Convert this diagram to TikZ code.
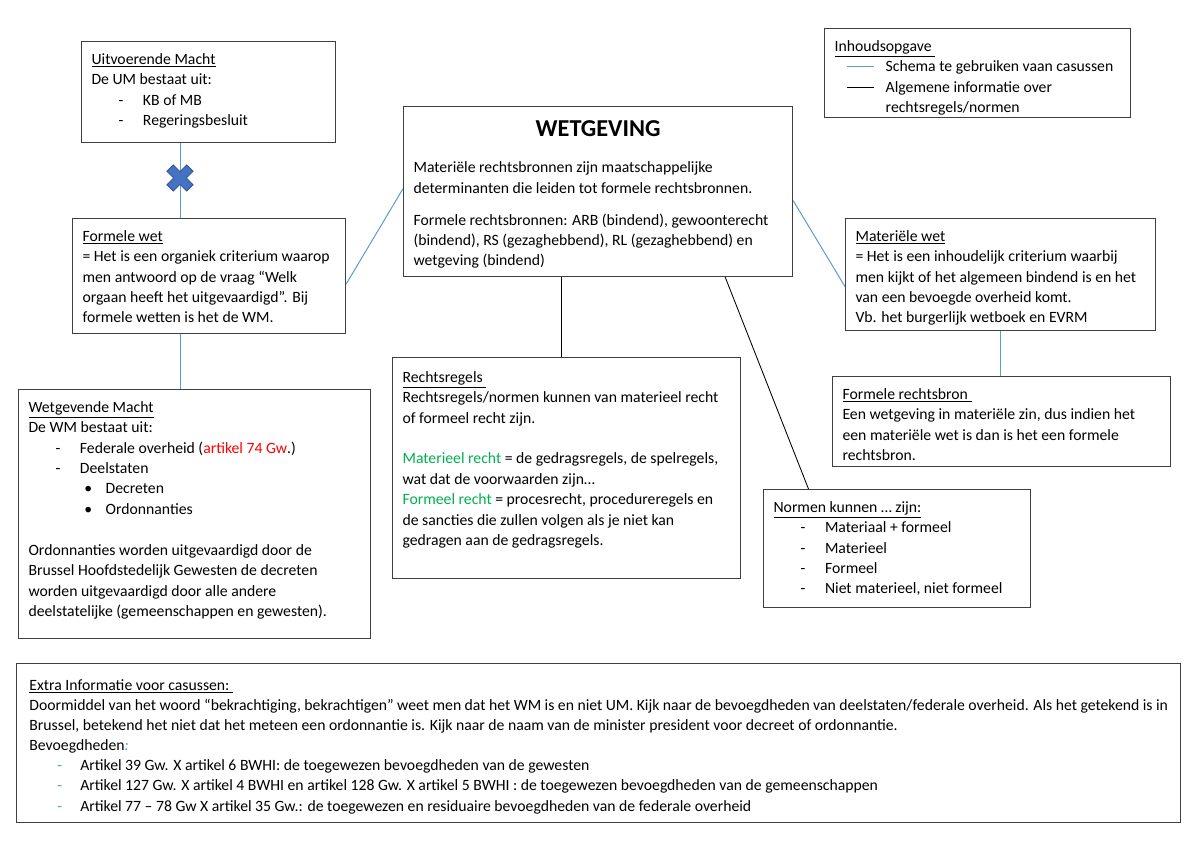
\documentclass[tikz,border=0pt]{standalone}
\usepackage{fontspec}
\setmainfont{Carlito}
\usepackage{xcolor}
\usepackage{tikz}

\definecolor{lijnblauw}{HTML}{5B9BD5}
\definecolor{kruisblauw}{HTML}{4472C4}
\definecolor{kruisrand}{HTML}{2F528F}
\definecolor{randgrijs}{HTML}{404040}
\definecolor{artrood}{HTML}{FF0000}
\definecolor{rechtgroen}{HTML}{00B050}

\newcommand{\vaktekst}[3]{\parbox[c][#2][t]{#1}{\raggedright\rule{0pt}{10.8pt}#3}}
\newcommand{\streep}[1]{\hspace*{19pt}\makebox[17pt][l]{-}#1}
\newcommand{\bolletje}[1]{\hspace*{39pt}\makebox[15pt][l]{\textbullet}#1}
\newcommand{\blauwstreep}[1]{\hspace*{19.6pt}\makebox[16pt][l]{\textcolor{lijnblauw}{-}}#1}

\begin{document}
\begin{tikzpicture}[x=0.7pt, y=-0.7pt,
    kader/.style={draw=randgrijs, line width=0.8pt, anchor=north west, inner xsep=7pt, inner ysep=5pt, font=\fontsize{11}{14.3}\selectfont},
    blauwlijn/.style={draw=lijnblauw, line width=0.7pt},
    zwartlijn/.style={draw=black, line width=0.6pt}]
        \useasboundingbox (0,0) rectangle (1200,848);

        % Uitvoerende Macht
        \node[kader] (uitv) at (81,41) {\vaktekst{163.8pt}{60.7pt}{\underline{Uitvoerende Macht}\\
        De UM bestaat uit:\\
        \streep{KB of MB}\\
        \streep{Regeringsbesluit}}};

        % WETGEVING
        \node[kader] (wetg) at (403,106) {\vaktekst{258.3pt}{109pt}{%
        {\centering\fontsize{17}{17}\selectfont\bfseries\rule{0pt}{16pt}WETGEVING\par}
        \vspace{11pt}
        Materiële rechtsbronnen zijn maatschappelijke\\
        determinanten die leiden tot formele rechtsbronnen.\par
        \vspace{8pt}
        Formele rechtsbronnen: ARB (bindend), gewoonterecht\\
        (bindend), RS (gezaghebbend), RL (gezaghebbend) en\\
        wetgeving (bindend)}};

        % Inhoudsopgave
        \node[kader] (inhoud) at (824,28) {\vaktekst{200.2pt}{52.3pt}{\underline{Inhoudsopgave\ }\\
        \hspace*{8.4pt}\textcolor{lijnblauw}{\rule[3pt]{19pt}{0.6pt}}\hspace{8.4pt}Schema te gebruiken vaan casussen\\
        \hspace*{8.4pt}\rule[3pt]{19pt}{0.6pt}\hspace{8.4pt}Algemene informatie over\\
        \hspace*{35.8pt}rechtsregels/normen}};

        % Formele wet
        \node[kader] (formwet) at (72,218) {\vaktekst{177.1pt}{70.5pt}{\underline{Formele wet}\\
        = Het is een organiek criterium waarop\\
        men antwoord op de vraag “Welk\\
        orgaan heeft het uitgevaardigd”. Bij\\
        formele wetten is het de WM.}};

        % Materiele wet
        \node[kader] (matwet) at (845,218) {\vaktekst{203pt}{68.4pt}{\underline{Materiële wet}\\
        = Het is een inhoudelijk criterium waarbij\\
        men kijkt of het algemeen bindend is en het\\
        van een bevoegde overheid komt.\\
        Vb. het burgerlijk wetboek en EVRM}};

        % Wetgevende Macht
        \node[kader] (wgm) at (18,389) {\vaktekst{232.4pt}{164.3pt}{\underline{Wetgevende Macht}\\
        De WM bestaat uit:\\
        \streep{Federale overheid (\textcolor{artrood}{artikel 74 Gw}.)}\\
        \streep{Deelstaten}\\
        \bolletje{Decreten}\\
        \bolletje{Ordonnanties}\\[14.3pt]
        Ordonnanties worden uitgevaardigd door de\\
        Brussel Hoofdstedelijk Gewesten de decreten\\
        worden uitgevaardigd door alle andere\\
        deelstatelijke (gemeenschappen en gewesten).}};

        % Rechtsregels
        \node[kader] (rr) at (392,357) {\vaktekst{229.6pt}{144.7pt}{\rule{0pt}{12.2pt}\underline{Rechtsregels\ }\\
        Rechtsregels/normen kunnen van materieel recht\\
        of formeel recht zijn.\\[14.3pt]
        \textcolor{rechtgroen}{Materieel recht} = de gedragsregels, de spelregels,\\
        wat dat de voorwaarden zijn…\\
        \textcolor{rechtgroen}{Formeel recht} = procesrecht, procedureregels en\\
        de sancties die zullen volgen als je niet kan\\
        gedragen aan de gedragsregels.}};

        % Formele rechtsbron
        \node[kader] (frb) at (832,376) {\vaktekst{222.6pt}{53pt}{\underline{Formele rechtsbron\ }\\
        Een wetgeving in materiële zin, dus indien het\\
        een materiële wet is dan is het een formele\\
        rechtsbron.}};

        % Normen
        \node[kader] (normen) at (763,489) {\vaktekst{172.9pt}{72.6pt}{\underline{Normen kunnen … zijn:}\\
        \streep{Materiaal + formeel}\\
        \streep{Materieel}\\
        \streep{Formeel}\\
        \streep{Niet materieel, niet formeel}}};

        % Extra informatie
        \node[kader, inner xsep=9pt, font=\fontsize{11}{14.1}\selectfont] (extra) at (16,663) {\parbox[c][101.3pt][t]{797pt}{\rule{0pt}{13.6pt}\underline{Extra Informatie voor casussen:\ }\\
        Doormiddel van het woord “bekrachtiging, bekrachtigen” weet men dat het WM is en niet UM. Kijk naar de bevoegdheden van deelstaten/federale overheid. Als het getekend is in\linebreak
        Brussel, betekend het niet dat het meteen een ordonnantie is. Kijk naar de naam van de minister president voor decreet of ordonnantie.\\
        Bevoegdheden\textcolor{lijnblauw}{\textit{:}}\\
        \blauwstreep{Artikel 39 Gw. X artikel 6 BWHI: de toegewezen bevoegdheden van de gewesten}\\
        \blauwstreep{Artikel 127 Gw. X artikel 4 BWHI en artikel 128 Gw. X artikel 5 BWHI : de toegewezen bevoegdheden van de gemeenschappen}\\
        \blauwstreep{Artikel 77 – 78 Gw X artikel 35 Gw.: de toegewezen en residuaire bevoegdheden van de federale overheid}}};

        % Lijnen
        \coordinate (kruis) at (180,178);
        \coordinate (rrtop) at ([xshift=-3.5pt]rr.north);
        \draw[blauwlijn] (uitv.south -| kruis) -- (formwet.north -| kruis);
        \draw[blauwlijn] (formwet.south -| kruis) -- (wgm.north -| kruis);
        \draw[blauwlijn] ([yshift=-5.6pt]formwet.east) -- ([yshift=2pt]wetg.west);
        \draw[blauwlijn] ([yshift=-6.3pt]wetg.east) -- ([yshift=-8.4pt]matwet.west);
        \draw[blauwlijn] (matwet.south) -- (matwet.south |- frb.north);
        \draw[zwartlijn] (rrtop |- wetg.south) -- (rrtop);
        \draw[zwartlijn] ([xshift=89pt]wetg.south) -- ([xshift=-62pt]normen.north);

        % Kruis
        \draw[fill=kruisblauw, draw=kruisrand, line width=0.6pt, shift={(kruis)}, rotate=45]
            (-4.5,-14) -- (4.5,-14) -- (4.5,-4.5) -- (14,-4.5) -- (14,4.5) -- (4.5,4.5) -- (4.5,14)
            -- (-4.5,14) -- (-4.5,4.5) -- (-14,4.5) -- (-14,-4.5) -- (-4.5,-4.5) -- cycle;
    \end{tikzpicture}
\end{document}
